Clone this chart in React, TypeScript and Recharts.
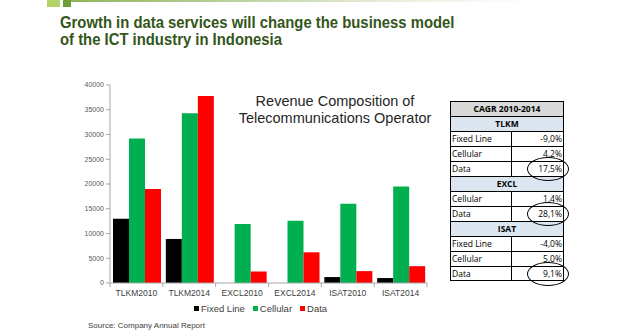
import { Bar, BarChart, XAxis, YAxis } from "recharts";

const categories = ["TLKM2010", "TLKM2014", "EXCL2010", "EXCL2014", "ISAT2010", "ISAT2014"];
const fixedLine = [13000, 8900, 0, 0, 1200, 1000];
const cellular = [29200, 34300, 11900, 12600, 16000, 19500];
const dataRev = [19000, 37800, 2300, 6200, 2400, 3400];
const yTicks = [0, 5000, 10000, 15000, 20000, 25000, 30000, 35000, 40000];

const cagrRows: { label: string; value?: string; header?: "main" | "group"; circle?: boolean }[] = [
  { label: "CAGR 2010-2014", header: "main" },
  { label: "TLKM", header: "group" },
  { label: "Fixed Line", value: "-9,0%" },
  { label: "Cellular", value: "4,2%" },
  { label: "Data", value: "17,5%", circle: true },
  { label: "EXCL", header: "group" },
  { label: "Cellular", value: "1,4%" },
  { label: "Data", value: "28,1%", circle: true },
  { label: "ISAT", header: "group" },
  { label: "Fixed Line", value: "-4,0%" },
  { label: "Cellular", value: "5,0%" },
  { label: "Data", value: "9,1%", circle: true },
];

const chartData = categories.map((name, i) => ({
  name,
  fixed: fixedLine[i],
  cellular: cellular[i],
  data: dataRev[i],
}));

const PLOT_LEFT = 110;
const PLOT_RIGHT = 427;
const BAND = (PLOT_RIGHT - PLOT_LEFT) / categories.length;
const FONT = "'Liberation Sans', Arial, sans-serif";

function XTick(props: any) {
  const { x, y, payload, index } = props;
  const axisY = y - 7;
  return (
    <g>
      <line x1={x - BAND / 2} x2={x - BAND / 2} y1={axisY} y2={axisY + 4} stroke="#a6a6a6" />
      {index === categories.length - 1 && (
        <line x1={x + BAND / 2} x2={x + BAND / 2} y1={axisY} y2={axisY + 4} stroke="#a6a6a6" />
      )}
      <text x={x} y={y} dy="0.75em" textAnchor="middle" fontSize={8.5} fill="#404040" fontFamily={FONT}>
        {payload.value}
      </text>
    </g>
  );
}

const ROW_H = 15;
const TABLE_TOP = 101;

export default function App() {
  return (
    <div style={{ position: "absolute", left: 0, top: 0, width: 638, height: 335, background: "#fff", fontFamily: FONT, overflow: "hidden" }}>
      <div style={{ position: "absolute", left: 47, top: 0, width: 13, height: 7, background: "#b3d26a" }} />
      <div style={{ position: "absolute", left: 63, top: 0, width: 8, height: 7, background: "#6f9e34" }} />
      <div style={{ position: "absolute", left: 71, top: 0, width: 460, height: 2, background: "linear-gradient(to right, #8fb45a, #e8eedd 70%, #ffffff)" }} />
      <div style={{ position: "absolute", left: 60, top: 14, whiteSpace: "nowrap", transform: "scaleX(0.9)", transformOrigin: "left top", fontWeight: "bold", fontSize: 16.5, lineHeight: "17px", color: "#33561a" }}>
        Growth in data services will change the business model
        <br />
        of the ICT industry in Indonesia
      </div>

      <div style={{ position: "absolute", left: 0, top: 0 }}>
        <BarChart width={638} height={335} data={chartData} margin={{ top: 85, left: 70, right: 638 - PLOT_RIGHT, bottom: 32 }} barCategoryGap={3} barGap={0}>
          <XAxis dataKey="name" stroke="#a6a6a6" tickLine={false} tickSize={5} tickMargin={2} height={20} tick={<XTick />} interval={0} />
          <YAxis width={40} domain={[0, 40000]} ticks={yTicks} interval={0} stroke="#a6a6a6" tickSize={4} tick={{ fontSize: 7, fill: "#595959", fontFamily: FONT }} />
          <Bar dataKey="fixed" fill="#000000" isAnimationActive={false} />
          <Bar dataKey="cellular" fill="#00b050" isAnimationActive={false} />
          <Bar dataKey="data" fill="#ff0000" isAnimationActive={false} />
        </BarChart>
      </div>

      <div style={{ position: "absolute", left: 235, top: 93, width: 200, textAlign: "center", fontSize: 14.5, lineHeight: "17px", color: "#262626" }}>
        Revenue Composition of
        <br />
        Telecommunications Operator
      </div>

      <div style={{ position: "absolute", left: 194, top: 303, display: "flex", alignItems: "center", fontSize: 9.5, color: "#404040" }}>
        {[
          ["Fixed Line", "#000000"],
          ["Cellular", "#00b050"],
          ["Data", "#ff0000"],
        ].map(([label, color]) => (
          <span key={label} style={{ display: "flex", alignItems: "center", marginRight: 8 }}>
            <span style={{ width: 5, height: 5, background: color, marginRight: 2, display: "inline-block" }} />
            {label}
          </span>
        ))}
      </div>

      <div style={{ position: "absolute", left: 88, top: 321, fontSize: 8, color: "#404040" }}>Source: Company Annual Report</div>

      <div style={{ position: "absolute", left: 450, top: TABLE_TOP, width: 114, fontFamily: "'Open Sans', sans-serif", fontSize: 8.5, color: "#000" }}>
        {cagrRows.map((r, i) => (
          <div key={i} style={{ display: "flex", height: ROW_H, boxSizing: "border-box", borderLeft: "1px solid #000", borderRight: "1px solid #000", borderTop: "1px solid #000", borderBottom: i === cagrRows.length - 1 ? "1px solid #000" : undefined, background: r.header === "main" ? "#d9d9d9" : r.header === "group" ? "#dce6f1" : "#fff" }}>
            {r.header ? (
              <div style={{ flex: 1, textAlign: "center", fontWeight: "bold", lineHeight: "14px" }}>{r.label}</div>
            ) : (
              <>
                <div style={{ width: 59, borderRight: "1px solid #000", paddingLeft: 1, lineHeight: "14px" }}>{r.label}</div>
                <div style={{ flex: 1, textAlign: "right", paddingRight: 1, lineHeight: "14px" }}>{r.value}</div>
              </>
            )}
          </div>
        ))}
      </div>
      {cagrRows.map((r, i) =>
        r.circle ? (
          <div key={"c" + i} style={{ position: "absolute", left: 527, top: TABLE_TOP + i * ROW_H + 7.5 - 12, width: 42, height: 24, border: "1px solid #000", borderRadius: "50%", boxSizing: "border-box" }} />
        ) : null
      )}
    </div>
  );
}
